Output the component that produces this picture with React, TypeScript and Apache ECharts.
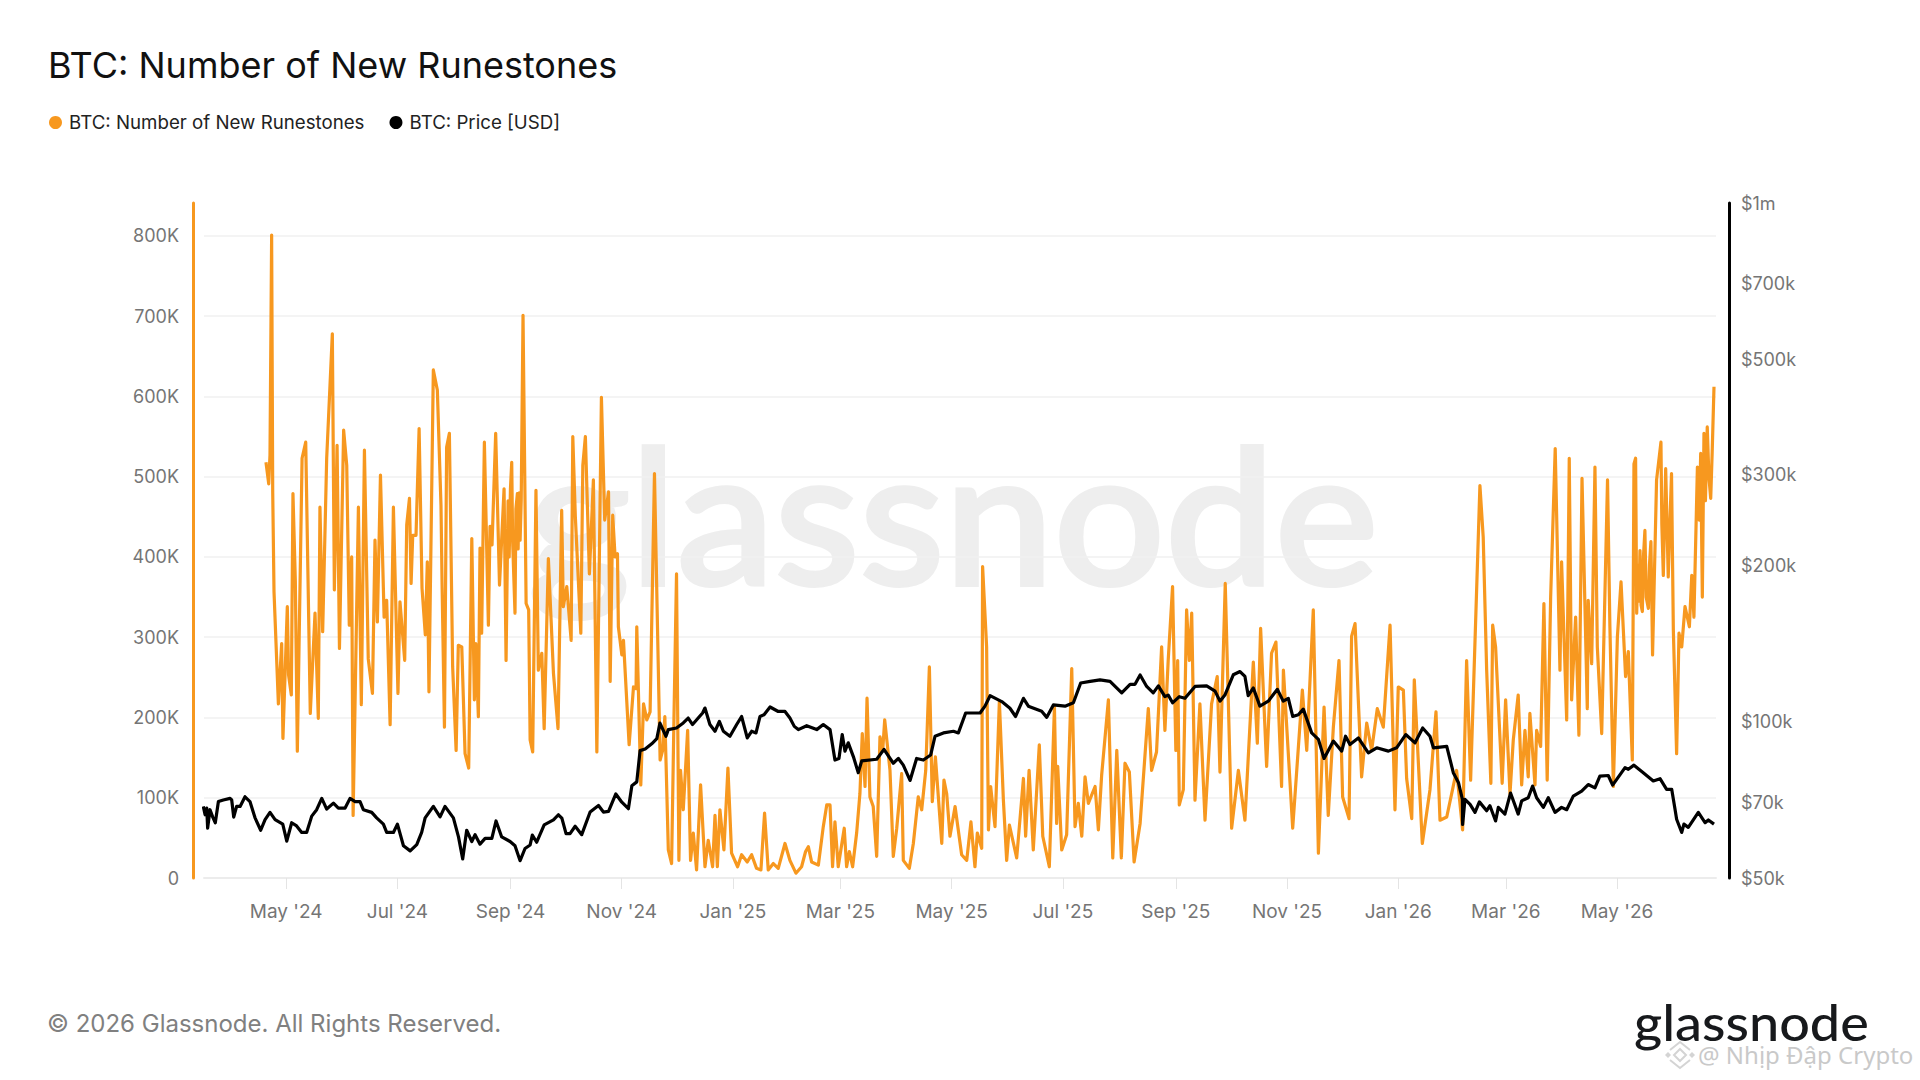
import React, { useEffect, useRef } from "react";
import * as echarts from "echarts";

const TITLE = "BTC: Number of New Runestones";
const RUNE_NAME = "BTC: Number of New Runestones";
const PRICE_NAME = "BTC: Price [USD]";
const FOOTER = "© 2026 Glassnode. All Rights Reserved.";
const DAY0 = Date.UTC(2024, 2, 18);
const DAY_MS = 86400000;

const xTickDates = [[2024,4],[2024,6],[2024,8],[2024,10],[2025,0],[2025,2],[2025,4],[2025,6],[2025,8],[2025,10],[2026,0],[2026,2],[2026,4]];
const monthNames = ["Jan","Feb","Mar","Apr","May","Jun","Jul","Aug","Sep","Oct","Nov","Dec"];
const priceTicks = [50000, 70000, 100000, 200000, 300000, 500000, 700000, 1000000];
const priceTickLabels = ["$50k", "$70k", "$100k", "$200k", "$300k", "$500k", "$700k", "$1m"];

// [days since 18 Mar 2024, new runestones in thousands]
const runestones: number[][] = [
[32.9,518],[34.4,491],[35.1,527],[36,801],[36.6,480],[37.3,357],[39.7,217],[41.5,292],[42.2,174],[44.6,338],[45.3,253],[46.8,228],[47.7,479],[49,370],[50.1,158],
[52.7,523],[54.7,543],[57.2,205],[59.8,330],[61.6,199],[62.5,462],[64,307],[66.2,523],[69.3,678],[70.4,359],[71.9,539],[73.2,286],[75.5,558],[77.2,514],[78.6,315],[79.9,400],[80.7,78],
[83.6,462],[85.2,216],[86.9,533],[89,273],[91.3,230],[92.7,421],[94,319],[95.7,502],[97.7,325],[99.1,346],[101,191],[102.8,462],[105.3,230],[106.4,344],[109,271],[110.1,440],[111.6,473],[112.5,367],[113.4,427],[115.2,427],[116.9,560],[118.5,361],[120.3,303],[121.4,394],[122.3,232],
[124.7,633],[126.9,608],[128.9,464],[129.5,365],[130.8,188],[132,537],[133.5,554],[135.3,263],[137.2,159],[138.4,290],[140.3,288],[142.1,155],[144.1,137],[145.8,423],[147.2,222],[148,292],[149.4,201],[150.3,411],[151.2,305],[152.7,543],[154.9,315],[155.8,438],[156.9,415],[158.9,554],[161,365],[163.5,485],[164.6,271],[165.7,470],[166.3,400],[167,485],[167.7,518],[168.2,420],[169.5,330],[170,460],[170.8,479],[171.2,410],[171.8,480],[172.3,421],[172.9,470],[173.9,701],[175.6,342],[177,334],[177.8,172],[179.2,157],[181,483],[182.3,259],[184.2,280],[185.5,186],[187.8,398],[190.6,255],[193.1,186],[195.1,458],[196,338],[197.9,363],[200.3,296],[201.2,550],[202.6,450],[205.6,305],[206.7,514],[208.1,550],[210.3,379],[212.5,496],[214.4,157],[216.9,599],[218.7,446],[220.8,481],[221.7,245],[223.1,452],[224.4,400],[225.7,404],[226.2,313],[228.1,278],[229,296],[232.1,166],[234.5,238],[235.9,236],[236.3,313],[238.5,116],[240,217],[241.8,197],[243.6,207],[246,504],[249.1,147],[250.5,159],[251.7,201],[253.6,35],[255.4,18],[256.7,200],[258.1,379],
[259.4,22],[260.3,134],[261.8,85],[264.2,184],[265.8,22],[267.3,56],[269.1,10],[271.3,116],[273.7,14],[275.5,47],[277.9,14],[279.2,78],[280.5,14],[281.9,85],[284.1,35],[286.3,137],[288.3,31],[291.6,14],[293.8,29],[296.9,20],[299.3,29],[302,12],[304.4,10],[306.4,81],[308.4,10],[311.2,18],[313.9,12],[317.6,43],[320.3,22],[323.6,6],[326.7,14],[328.9,33],[330.4,39],[332.2,20],[335.9,16],[338.6,64],[340.5,91],[342.3,91],[343.7,14],[345,70],[346.8,14],[350.1,62],[351.4,14],[352.9,33],[354.7,14],[356.9,56],[358.7,105],[360,180],[361.5,114],[362.6,224],[364.2,101],[366,89],[367.9,27],[369.7,176],[371.2,159],[372.3,197],[375.2,134],[377,27],[378.9,62],[381.6,130],[382.5,22],[385.8,12],[388,43],[390.7,101],[392.6,85],[394.8,134],[396.8,263],[398.4,95],[400.1,151],[403.6,43],[404.8,122],[406.3,105],[408.1,52],[410.9,89],[414.5,29],[417.3,22],[419.6,70],[421.8,14],[423.1,56],[425.5,37],[426,388],[428.2,288],[429.2,60],[430.4,114],[432.8,64],[435.2,220],[437.4,97],[439.2,22],[440.7,66],[444.7,25],[448.4,124],[449.6,52],[451.5,134],[453.8,35],[457.1,166],[459,52],[462.6,14],[465.4,213],[466.6,68],[467.2,139],[469.4,35],[472.1,54],[474.9,261],[476.7,64],[478.5,93],[480.4,52],[482.2,126],[484,93],[487.7,114],[489.5,60],[491.3,128],[495,222],[497.4,25],[499.6,159],[502.1,25],[504.1,143],[506.5,132],[509.1,20],[512.4,68],
[516.9,211],[518.7,134],[521.4,157],[524.2,288],[526,184],[527.8,271],[530.2,363],[532,159],[533,271],[533.9,91],[536.1,110],[537.9,334],[539.4,271],[540.7,330],[542.5,97],[545.2,217],[548,72],[551.6,217],[554.7,251],[556.2,132],[559.1,367],[562.6,62],[566.3,134],[569.9,72],[574.5,269],[576.7,168],[578.5,311],[581.8,139],[584.5,280],[586.9,294],[590,114],[591,259],[596.1,62],[601.4,234],[603.8,159],[607.4,334],[610.2,31],[613.3,213],[615.6,78],[618.4,188],[621.5,271],[623.5,101],[627,74],[628.4,301],[630.3,317],[633.9,126],[636.7,193],[639.4,159],[642.5,211],[645.8,188],[649.5,315],[652.2,85],[654,238],[656.8,234],[658.6,124],[661.4,74],[662.8,247],[667.2,43],[671.4,110],[674.7,207],[676.9,72],[680.6,76],[686,134],[689.3,60],[691.5,271],[693.7,122],
[698.8,489],[700.6,425],[702.5,259],[704.8,118],[705.8,315],[707.4,288],[711,118],[712.9,222],[715.3,105],[717.1,172],[719.8,228],[721.7,116],[723.5,184],[725.3,126],[726.2,205],[729,116],[729.9,184],[732.1,164],[733.9,342],[735.7,122],[737.6,350],[740.1,535],[742.7,259],[743.6,394],[746.4,197],[747.8,523],[749.1,222],[751.3,325],[753.1,178],[754.8,498],[757.7,211],[758.2,346],[760.1,267],[761.9,512],[763.2,288],[765.6,180],[768.8,496],[770.1,313],[772,114],[774.2,300],[776.2,369],[778.7,251],[780.2,282],[782.4,147],[783.3,516],[784.2,523],[784.8,330],[785.4,390],[786,345],[786.6,408],[787.2,340],[787.9,332],[788.5,400],[789.3,433],[790,350],[791.2,336],[791.8,390],[792.6,419],[793.5,278],[795.7,496],[798.1,543],[798.6,440],[799.4,377],[800.7,510],[802.1,375],[803.9,504],[804.9,309],[806.7,155],[808,305],[809.5,288],[811.3,338],[813.7,313],[815,377],[816.2,325],[818.1,512],[818.6,470],[819.1,446],[819.9,529],[820.8,350],[821.7,554],[822.5,470],[823.5,562],[824.4,500],[825.4,473],[826.2,530],[827.2,612],
];

// [days since 18 Mar 2024, BTC price in thousand USD]
const prices: number[][] = [
[-1.5,68.7],[-0.5,66.2],[0.4,68.2],[0.9,62.4],[2.2,67.7],[3.7,65.5],[5.1,63.9],[6.8,70.2],[9.5,70.7],[13.2,71.2],[14.1,70.7],[15.2,65.5],[16.8,68.7],[18.7,68.7],[21.4,71.7],[24.1,70.2],[26.9,65.3],[30,61.8],[32.4,64.8],[35.1,66.9],[37.9,64.8],[42.1,63.5],[44.3,58.9],[47,63.9],[49.7,63],[52.5,61.2],[55.2,61.2],[58,65.8],[60.7,67.7],[63.5,71.2],[66.2,67.9],[69.9,69.7],[72.6,68.2],[76.3,68.2],[79,71.2],[81.8,70.2],[84.5,70.2],[86.3,67.7],[90.9,66.9],[93.6,65.3],[97.3,63.5],[99.1,61.2],[102.8,61.2],[105,63.5],[108.3,57.7],[112,56.4],[115.6,58],[118.3,61.2],[120.2,65.3],[124.7,68.7],[128.4,65.6],[131.1,68.7],[135.7,65.3],[138.5,60],[140.8,54.4],[143,61.8],[145.8,58.8],[147.6,60.6],[150.3,58.1],[153.1,59.6],[156.8,59.6],[159.1,64.4],[162.2,60],[166.8,58.8],[169.5,57.7],[172.3,54],[175,57],[177.8,57.9],[179,60.5],[181.4,58.6],[185.5,63.3],[190.6,64.7],[193.3,66.2],[195.2,65.2],[197.5,60.9],[199.7,60.9],[202.5,62.9],[206.1,60.6],[210.7,67],[215.3,69],[218,67],[220.8,67.2],[224.8,72.6],[228.1,70],[231.7,68],[233.6,75.3],[236.3,76.6],[238.1,88],[240.9,88.6],[244.5,90.7],[247.3,92.8],[249,99.4],[252.3,93.8],[253.6,96.6],[258.1,97.3],[261.8,99.5],[264.5,101.7],[266.9,98.8],[270,101.7],[272.4,104],[273.7,106.3],[276.4,98.8],[279.2,95.9],[281.6,100.2],[283.8,95.9],[287.4,93.8],[291.1,98.8],[293.8,102.4],[296.9,93.1],[299.3,95.9],[301.7,95.2],[303.9,102.4],[306.1,103.2],[309.4,106.8],[313.9,104.7],[317.6,104.7],[320.3,101.7],[322.7,98],[324.9,96.6],[329.5,98.3],[335,96.6],[338.6,98.8],[342.3,96.6],[345,84.4],[347.2,85],[349,94.5],[350.5,87.8],[352.3,91.1],[355.1,85.7],[357.8,79.8],[359.7,84.1],[367.9,84.7],[371.9,88.5],[377,83.2],[379.8,85],[382.5,82.5],[386.2,77.1],[389.8,85],[393.5,84.4],[397.5,86.3],[399.9,93.8],[404.5,95.2],[410,95.9],[412.7,95.2],[416.7,104],[420,104],[424.6,104],[427.3,107.2],[430.1,112.3],[436.5,109.4],[441,106.2],[444.1,102.4],[448.4,111],[451.1,107.2],[458.4,104.8],[461.2,102],[464.8,107.8],[471.2,107.2],[475.8,108.8],[479.8,118.8],[485,119.7],[490.4,120.5],[495.9,119.7],[502.3,113.7],[506.9,118.1],[509.6,118.1],[512.4,123.1],[516,117],[519.6,113.7],[522.4,117.3],[526,111.8],[527.8,112.6],[530.2,108.8],[533.9,111.8],[537,111],[542.5,117],[548.9,117.3],[553.5,114.6],[556.2,109.6],[558.9,112.6],[563.5,123.2],[567.2,125],[569.9,122.3],[571.7,112.3],[574.5,116.2],[578.1,107.2],[582.7,109.6],[587.7,115.5],[590.9,109.6],[593.7,111],[596.1,102.4],[599.2,103.2],[601.9,105.8],[606.5,95.2],[610.2,92.5],[613.3,85],[618.4,91.8],[623,87.8],[625.1,93.8],[627.5,90.4],[632.1,93.1],[637.6,87.1],[642.2,89.1],[648.6,87.8],[653.1,89.1],[658.1,94.5],[663.2,91.1],[667.4,97.3],[671.4,93.8],[673.3,89.1],[680.6,89.7],[684.2,79.8],[687,76.4],[689.2,70.9],[689.3,63.4],[690.6,70.9],[693.4,69.3],[696.1,66.9],[698.5,70.1],[702.5,67.4],[704.3,68.9],[707.4,64.4],[708.9,68.4],[712.5,66.4],[715.6,72.9],[719.8,66.4],[721.7,70.4],[725.3,71.4],[727.7,75.2],[729.9,71.4],[733.6,68.4],[736.3,71.4],[740,66.9],[743.6,68.4],[746.4,67.7],[750,71.9],[754.6,73.5],[758.2,75.7],[761.9,74.6],[764.6,78.6],[769.2,78.8],[771.6,75.5],[778.4,81.6],[780.2,81],[783.3,82.5],[788.4,79.8],[793.9,76.9],[797.6,77.7],[801.2,74.1],[804,74.1],[805.8,67.9],[806.7,64.9],[809.5,61.2],[810.7,63.5],[813.1,62.6],[818.6,66.9],[822.3,63.9],[824.1,64.7],[827.2,63.5],
];

const xTicks = xTickDates.map(([y, m]) => (Date.UTC(y, m, 1) - DAY0) / DAY_MS);
const FONT = "Inter";
const GREY = "#757575";

export default function App() {
  const ref = useRef<HTMLDivElement>(null);
  useEffect(() => {
    if (!ref.current) return;
    const chart = echarts.init(ref.current, undefined, { renderer: "svg" });
    chart.setOption({
      animation: false,
      backgroundColor: "#ffffff",
      title: {
        text: TITLE, left: 43, top: 42,
        textStyle: { fontFamily: FONT, fontSize: 36, fontWeight: 400, color: "#111111" },
      },
      legend: {
        left: 44, top: 108, itemGap: 25, itemWidth: 13, itemHeight: 13, icon: "circle",
        textStyle: { fontFamily: FONT, fontSize: 18.7, color: "#222222", padding: [0, 0, 0, 2] },
        data: [RUNE_NAME, PRICE_NAME],
      },
      grid: { left: 204, right: 204, top: 203, bottom: 202 },
      xAxis: {
        type: "value",
        min: -1.1,
        max: 828.3,
        axisLine: { show: true, onZero: false, lineStyle: { color: "#ececec", width: 2 } },
        axisTick: { show: true, length: 11, lineStyle: { color: "#e4e4e4", width: 1 }, customValues: xTicks },
        splitLine: { show: false },
        axisLabel: {
          customValues: xTicks,
          margin: 24,
          fontFamily: FONT, fontSize: 19, color: GREY,
          formatter: (v: number) => {
            const d = new Date(DAY0 + v * DAY_MS);
            return `${monthNames[d.getUTCMonth()]} '${String(d.getUTCFullYear()).slice(2)}`;
          },
        },
      },
      yAxis: [
        {
          type: "value", position: "left", offset: 11, min: 0, max: 841000, interval: 100000,
          axisLine: { show: true, onZero: false, lineStyle: { color: "#f7981f", width: 3 } },
          axisTick: { show: false },
          splitLine: { show: true, showMaxLine: false, lineStyle: { color: "#f0f0f0", width: 1.5 } },
          axisLabel: {
            showMaxLabel: false, margin: 14, fontFamily: FONT, fontSize: 18, color: GREY,
            formatter: (v: number) => (v === 0 ? "0" : `${v / 1000}K`),
          },
        },
        {
          type: "log", position: "right", offset: 13, min: 50000, max: 1000000, logBase: 10,
          axisLine: { show: true, onZero: false, lineStyle: { color: "#000000", width: 3 } },
          axisTick: { show: false },
          splitLine: { show: false },
          minorSplitLine: { show: false },
          axisLabel: {
            customValues: priceTicks, margin: 12, fontFamily: FONT, fontSize: 18, color: GREY,
            formatter: (v: number) => {
              const i = priceTicks.findIndex((t) => Math.abs(t - v) / t < 0.001);
              return i >= 0 ? priceTickLabels[i] : "";
            },
          },
        },
      ],
      graphic: [
        { type: "text", x: 528, y: 418, scaleX: 1.04, z: 0, silent: true, style: { text: "glassnode", fontFamily: "Lato", fontSize: 188, fontWeight: 500, fill: "#eeeeee", stroke: "#eeeeee", lineWidth: 4 } },
        { type: "text", x: 47, y: 1011, style: { text: FOOTER, fontFamily: FONT, fontSize: 24, fill: "#808080" } },
        { type: "text", x: 1634, y: 997, scaleX: 1.08, style: { text: "glassnode", fontFamily: "Lato", fontSize: 50, fontWeight: 500, fill: "#17191c" } },
        { type: "text", x: 1698, y: 1042, style: { text: "@ Nhịp Đập Crypto", fontFamily: "Noto Sans", fontSize: 24, fill: "#c9c9c9" } },
        { type: "polyline", shape: { points: [[1670, 1050], [1680, 1042], [1690, 1050]] }, style: { stroke: "#d4d4d4", lineWidth: 2, fill: "none" } },
        { type: "polyline", shape: { points: [[1670, 1060], [1680, 1068], [1690, 1060]] }, style: { stroke: "#d4d4d4", lineWidth: 2, fill: "none" } },
        { type: "polygon", shape: { points: [[1680, 1049], [1686, 1055], [1680, 1061], [1674, 1055]] }, style: { stroke: "#d4d4d4", lineWidth: 2, fill: "none" } },
        { type: "polygon", shape: { points: [[1668, 1052], [1671, 1055], [1668, 1058], [1665, 1055]] }, style: { fill: "#d4d4d4" } },
        { type: "polygon", shape: { points: [[1692, 1052], [1695, 1055], [1692, 1058], [1689, 1055]] }, style: { fill: "#d4d4d4" } },
      ],
      series: [
        {
          name: RUNE_NAME, type: "line", yAxisIndex: 0, showSymbol: false, symbol: "none", z: 3,
          itemStyle: { color: "#f7981f" },
          lineStyle: { color: "#f7981f", width: 3.2, join: "round" },
          data: runestones.map(([d, k]) => [d, k * 1000]),
        },
        {
          name: PRICE_NAME, type: "line", yAxisIndex: 1, showSymbol: false, symbol: "none", z: 4,
          itemStyle: { color: "#000000" },
          lineStyle: { color: "#000000", width: 3.2, join: "round" },
          data: prices.map(([d, k]) => [d, k * 1000]),
        },
      ],
    });
    return () => chart.dispose();
  }, []);
  return <div ref={ref} style={{ position: "fixed", left: 0, top: 0, width: 1920, height: 1080 }} />;
}
